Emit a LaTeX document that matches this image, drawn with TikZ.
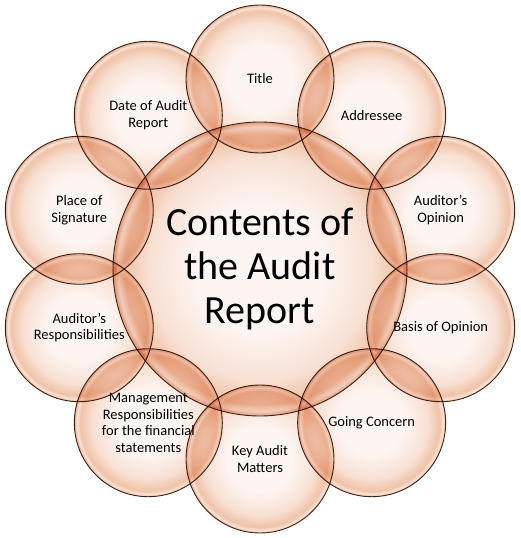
\documentclass[tikz,border=0pt]{standalone}
\usepackage{fontspec}
\setmainfont{Carlito}
\usepackage{tikz}
\usetikzlibrary{positioning}
\definecolor{bubin}{HTML}{FDF5F2}
\definecolor{bubmid}{HTML}{F8E0D3}
\definecolor{bubedge}{HTML}{F0C3A8}
\definecolor{bubhigh}{HTML}{F8E4DA}
\definecolor{bubout}{HTML}{E3A884}
\definecolor{rimline}{HTML}{4A2C1C}
\pgfdeclareradialshading{bubble}{\pgfpoint{0bp}{0bp}}{%
  color(0bp)=(bubin); color(11bp)=(bubin); color(19bp)=(bubmid);
  color(23bp)=(bubedge); color(24.2bp)=(bubhigh); color(25bp)=(bubout);
  color(50bp)=(bubout)}
\tikzset{%
  bubblebox/.style={circle,draw=rimline,line width=0.9pt,shade,shading=bubble,
    blend mode=multiply,minimum size=148pt,inner sep=0pt,align=center,
    font=\fontsize{14.5}{16.5}\selectfont},
  hubbox/.style={bubblebox,minimum size=294pt,
    font=\fontsize{40}{44}\selectfont}
}

\begin{document}
\begin{tikzpicture}
    \useasboundingbox (-260pt,-269pt) rectangle (260pt,269pt);
    \node[hubbox] (contents) at (0,0) {Contents of\\the Audit\\Report};
    \node[bubblebox] (title) at (90:190pt) {Title};
    \node[bubblebox] (addressee) at (54:190pt) {Addressee};
    \node[bubblebox] (opinion) at (18:190pt) {Auditor’s\\Opinion};
    \node[bubblebox] (basis) at (-18:190pt) {Basis of Opinion};
    \node[bubblebox] (going) at (-54:190pt) {Going Concern};
    \node[bubblebox] (kam) at (-90:190pt) {Key Audit\\Matters};
    \node[bubblebox] (mgmt) at (-126:190pt) {Management\\Responsibilities\\for the financial\\statements};
    \node[bubblebox] (resp) at (-162:190pt) {Auditor’s\\Responsibilities};
    \node[bubblebox] (place) at (162:190pt) {Place of\\Signature};
    \node[bubblebox] (date) at (126:190pt) {Date of Audit\\Report};
  \end{tikzpicture}
\end{document}
